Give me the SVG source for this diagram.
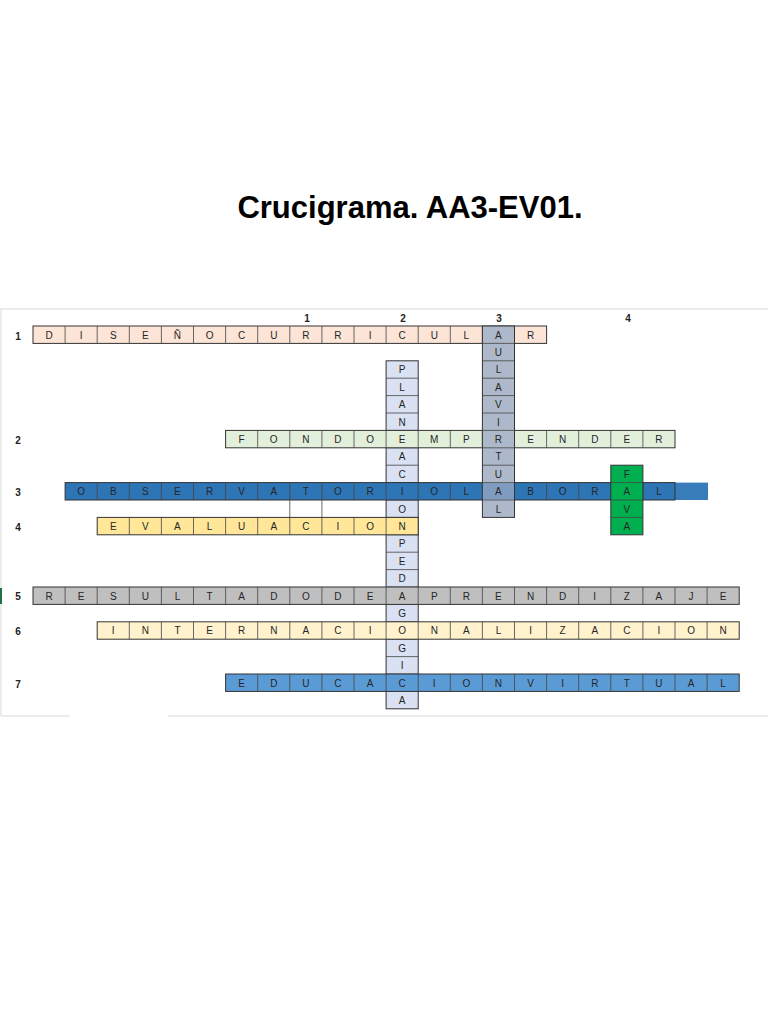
<svg xmlns="http://www.w3.org/2000/svg" width="768" height="1024" viewBox="0 0 768 1024">
<style>
.t{font-family:"Liberation Sans",Arial,sans-serif;font-size:10px;fill:#262626;text-anchor:middle}
.lb{font-family:"Liberation Sans",Arial,sans-serif;font-size:10px;font-weight:bold;fill:#222;text-anchor:middle}
.b{stroke:#333;stroke-width:1}
.d{stroke:#444;stroke-width:0.8;fill:none}
</style>
<rect width="768" height="1024" fill="#fff"/>
<text x="410" y="218" font-family="Liberation Sans,Arial,sans-serif" font-size="31" font-weight="bold" text-anchor="middle" fill="#000">Crucigrama. AA3-EV01.</text>
<g id="frame" stroke="#d9d9d9" fill="none"><path d="M0 309H768M1 309V716M1 716H70M168 716H768"/></g>
<g id="labels">
<text class="lb" x="18" y="340">1</text><text class="lb" x="18" y="444">2</text><text class="lb" x="18" y="496">3</text><text class="lb" x="18" y="531">4</text><text class="lb" x="18" y="600">5</text><text class="lb" x="18" y="635">6</text><text class="lb" x="18" y="688">7</text>
<text class="lb" x="307" y="322">1</text><text class="lb" x="403" y="322">2</text><text class="lb" x="499" y="322">3</text><text class="lb" x="628" y="322">4</text>
</g>
<rect x="0" y="588" width="2" height="16" fill="#217346"/>
<g id="connectors"><path class="d" d="M289.8 500V517.4M321.9 500V517.4"/></g>
<g id="v2">
<rect class="b" x="386.1" y="360.8" width="32.1" height="348" fill="#D9E1F2"/>
<path class="d" d="M386.1 378.2h32.1M386.1 395.6h32.1M386.1 413h32.1M386.1 430.4h32.1M386.1 447.8h32.1M386.1 465.2h32.1M386.1 482.6h32.1M386.1 500h32.1M386.1 517.4h32.1M386.1 534.8h32.1M386.1 552.2h32.1M386.1 569.6h32.1M386.1 587h32.1M386.1 604.4h32.1M386.1 621.8h32.1M386.1 639.2h32.1M386.1 656.6h32.1M386.1 674h32.1M386.1 691.4h32.1"/>
<text class="t" x="402.15" y="373.3">P</text><text class="t" x="402.15" y="390.7">L</text><text class="t" x="402.15" y="408.1">A</text><text class="t" x="402.15" y="425.5">N</text><text class="t" x="402.15" y="460.3">A</text><text class="t" x="402.15" y="477.7">C</text><text class="t" x="402.15" y="512.5">O</text><text class="t" x="402.15" y="547.3">P</text><text class="t" x="402.15" y="564.7">E</text><text class="t" x="402.15" y="582.1">D</text><text class="t" x="402.15" y="616.9">G</text><text class="t" x="402.15" y="651.7">G</text><text class="t" x="402.15" y="669.1">I</text><text class="t" x="402.15" y="703.9">A</text>
</g>
<g id="h1">
<rect class="b" x="33" y="326" width="513.6" height="17.4" fill="#FCE4D6"/>
<path class="d" d="M65.1 326v17.4M97.2 326v17.4M129.3 326v17.4M161.4 326v17.4M193.5 326v17.4M225.6 326v17.4M257.7 326v17.4M289.8 326v17.4M321.9 326v17.4M354 326v17.4M386.1 326v17.4M418.2 326v17.4M450.3 326v17.4M482.4 326v17.4M514.5 326v17.4"/>
<text class="t" x="49.05" y="338.5">D</text><text class="t" x="81.15" y="338.5">I</text><text class="t" x="113.25" y="338.5">S</text><text class="t" x="145.35" y="338.5">E</text><text class="t" x="177.45" y="338.5">Ñ</text><text class="t" x="209.55" y="338.5">O</text><text class="t" x="241.65" y="338.5">C</text><text class="t" x="273.75" y="338.5">U</text><text class="t" x="305.85" y="338.5">R</text><text class="t" x="337.95" y="338.5">R</text><text class="t" x="370.05" y="338.5">I</text><text class="t" x="402.15" y="338.5">C</text><text class="t" x="434.25" y="338.5">U</text><text class="t" x="466.35" y="338.5">L</text><text class="t" x="530.55" y="338.5">R</text>
</g>
<g id="h2">
<rect class="b" x="225.6" y="430.4" width="449.4" height="17.4" fill="#E2EFDA"/>
<path class="d" d="M257.7 430.4v17.4M289.8 430.4v17.4M321.9 430.4v17.4M354 430.4v17.4M386.1 430.4v17.4M418.2 430.4v17.4M450.3 430.4v17.4M482.4 430.4v17.4M514.5 430.4v17.4M546.6 430.4v17.4M578.7 430.4v17.4M610.8 430.4v17.4M642.9 430.4v17.4"/>
<text class="t" x="241.65" y="442.9">F</text><text class="t" x="273.75" y="442.9">O</text><text class="t" x="305.85" y="442.9">N</text><text class="t" x="337.95" y="442.9">D</text><text class="t" x="370.05" y="442.9">O</text><text class="t" x="402.15" y="442.9">E</text><text class="t" x="434.25" y="442.9">M</text><text class="t" x="466.35" y="442.9">P</text><text class="t" x="530.55" y="442.9">E</text><text class="t" x="562.65" y="442.9">N</text><text class="t" x="594.75" y="442.9">D</text><text class="t" x="626.85" y="442.9">E</text><text class="t" x="658.95" y="442.9">R</text>
</g>
<g id="h3">
<rect x="675" y="482.6" width="33" height="17.4" fill="#2E75B6" opacity="0.95"/>
<rect class="b" x="65.1" y="482.6" width="609.9" height="17.4" fill="#2E75B6"/>
<path class="d" d="M97.2 482.6v17.4M129.3 482.6v17.4M161.4 482.6v17.4M193.5 482.6v17.4M225.6 482.6v17.4M257.7 482.6v17.4M289.8 482.6v17.4M321.9 482.6v17.4M354 482.6v17.4M386.1 482.6v17.4M418.2 482.6v17.4M450.3 482.6v17.4M482.4 482.6v17.4M514.5 482.6v17.4M546.6 482.6v17.4M578.7 482.6v17.4M610.8 482.6v17.4M642.9 482.6v17.4"/>
<text class="t" x="81.15" y="495.1">O</text><text class="t" x="113.25" y="495.1">B</text><text class="t" x="145.35" y="495.1">S</text><text class="t" x="177.45" y="495.1">E</text><text class="t" x="209.55" y="495.1">R</text><text class="t" x="241.65" y="495.1">V</text><text class="t" x="273.75" y="495.1">A</text><text class="t" x="305.85" y="495.1">T</text><text class="t" x="337.95" y="495.1">O</text><text class="t" x="370.05" y="495.1">R</text><text class="t" x="402.15" y="495.1">I</text><text class="t" x="434.25" y="495.1">O</text><text class="t" x="466.35" y="495.1">L</text><text class="t" x="530.55" y="495.1">B</text><text class="t" x="562.65" y="495.1">O</text><text class="t" x="594.75" y="495.1">R</text><text class="t" x="658.95" y="495.1">L</text>
</g>
<g id="h4">
<rect class="b" x="97.2" y="517.4" width="321" height="17.4" fill="#FFE699"/>
<path class="d" d="M129.3 517.4v17.4M161.4 517.4v17.4M193.5 517.4v17.4M225.6 517.4v17.4M257.7 517.4v17.4M289.8 517.4v17.4M321.9 517.4v17.4M354 517.4v17.4M386.1 517.4v17.4"/>
<text class="t" x="113.25" y="529.9">E</text><text class="t" x="145.35" y="529.9">V</text><text class="t" x="177.45" y="529.9">A</text><text class="t" x="209.55" y="529.9">L</text><text class="t" x="241.65" y="529.9">U</text><text class="t" x="273.75" y="529.9">A</text><text class="t" x="305.85" y="529.9">C</text><text class="t" x="337.95" y="529.9">I</text><text class="t" x="370.05" y="529.9">O</text><text class="t" x="402.15" y="529.9">N</text>
</g>
<g id="h5">
<rect class="b" x="33" y="587" width="706.2" height="17.4" fill="#BFBFBF"/>
<path class="d" d="M65.1 587v17.4M97.2 587v17.4M129.3 587v17.4M161.4 587v17.4M193.5 587v17.4M225.6 587v17.4M257.7 587v17.4M289.8 587v17.4M321.9 587v17.4M354 587v17.4M386.1 587v17.4M418.2 587v17.4M450.3 587v17.4M482.4 587v17.4M514.5 587v17.4M546.6 587v17.4M578.7 587v17.4M610.8 587v17.4M642.9 587v17.4M675 587v17.4M707.1 587v17.4"/>
<text class="t" x="49.05" y="599.5">R</text><text class="t" x="81.15" y="599.5">E</text><text class="t" x="113.25" y="599.5">S</text><text class="t" x="145.35" y="599.5">U</text><text class="t" x="177.45" y="599.5">L</text><text class="t" x="209.55" y="599.5">T</text><text class="t" x="241.65" y="599.5">A</text><text class="t" x="273.75" y="599.5">D</text><text class="t" x="305.85" y="599.5">O</text><text class="t" x="337.95" y="599.5">D</text><text class="t" x="370.05" y="599.5">E</text><text class="t" x="402.15" y="599.5">A</text><text class="t" x="434.25" y="599.5">P</text><text class="t" x="466.35" y="599.5">R</text><text class="t" x="498.45" y="599.5">E</text><text class="t" x="530.55" y="599.5">N</text><text class="t" x="562.65" y="599.5">D</text><text class="t" x="594.75" y="599.5">I</text><text class="t" x="626.85" y="599.5">Z</text><text class="t" x="658.95" y="599.5">A</text><text class="t" x="691.05" y="599.5">J</text><text class="t" x="723.15" y="599.5">E</text>
</g>
<g id="h6">
<rect class="b" x="97.2" y="621.8" width="642" height="17.4" fill="#FFF2CC"/>
<path class="d" d="M129.3 621.8v17.4M161.4 621.8v17.4M193.5 621.8v17.4M225.6 621.8v17.4M257.7 621.8v17.4M289.8 621.8v17.4M321.9 621.8v17.4M354 621.8v17.4M386.1 621.8v17.4M418.2 621.8v17.4M450.3 621.8v17.4M482.4 621.8v17.4M514.5 621.8v17.4M546.6 621.8v17.4M578.7 621.8v17.4M610.8 621.8v17.4M642.9 621.8v17.4M675 621.8v17.4M707.1 621.8v17.4"/>
<text class="t" x="113.25" y="634.3">I</text><text class="t" x="145.35" y="634.3">N</text><text class="t" x="177.45" y="634.3">T</text><text class="t" x="209.55" y="634.3">E</text><text class="t" x="241.65" y="634.3">R</text><text class="t" x="273.75" y="634.3">N</text><text class="t" x="305.85" y="634.3">A</text><text class="t" x="337.95" y="634.3">C</text><text class="t" x="370.05" y="634.3">I</text><text class="t" x="402.15" y="634.3">O</text><text class="t" x="434.25" y="634.3">N</text><text class="t" x="466.35" y="634.3">A</text><text class="t" x="498.45" y="634.3">L</text><text class="t" x="530.55" y="634.3">I</text><text class="t" x="562.65" y="634.3">Z</text><text class="t" x="594.75" y="634.3">A</text><text class="t" x="626.85" y="634.3">C</text><text class="t" x="658.95" y="634.3">I</text><text class="t" x="691.05" y="634.3">O</text><text class="t" x="723.15" y="634.3">N</text>
</g>
<g id="h7">
<rect class="b" x="225.6" y="674" width="513.6" height="17.4" fill="#5B9BD5"/>
<path class="d" d="M257.7 674v17.4M289.8 674v17.4M321.9 674v17.4M354 674v17.4M386.1 674v17.4M418.2 674v17.4M450.3 674v17.4M482.4 674v17.4M514.5 674v17.4M546.6 674v17.4M578.7 674v17.4M610.8 674v17.4M642.9 674v17.4M675 674v17.4M707.1 674v17.4"/>
<text class="t" x="241.65" y="686.5">E</text><text class="t" x="273.75" y="686.5">D</text><text class="t" x="305.85" y="686.5">U</text><text class="t" x="337.95" y="686.5">C</text><text class="t" x="370.05" y="686.5">A</text><text class="t" x="402.15" y="686.5">C</text><text class="t" x="434.25" y="686.5">I</text><text class="t" x="466.35" y="686.5">O</text><text class="t" x="498.45" y="686.5">N</text><text class="t" x="530.55" y="686.5">V</text><text class="t" x="562.65" y="686.5">I</text><text class="t" x="594.75" y="686.5">R</text><text class="t" x="626.85" y="686.5">T</text><text class="t" x="658.95" y="686.5">U</text><text class="t" x="691.05" y="686.5">A</text><text class="t" x="723.15" y="686.5">L</text>
</g>
<g id="v3">
<rect class="b" x="482.4" y="326" width="32.1" height="191.4" fill="#ADB9CA"/>
<rect x="482.9" y="483.1" width="31.1" height="16.4" fill="#7F9CC0"/>
<path class="d" d="M482.4 343.4h32.1M482.4 360.8h32.1M482.4 378.2h32.1M482.4 395.6h32.1M482.4 413h32.1M482.4 430.4h32.1M482.4 447.8h32.1M482.4 465.2h32.1M482.4 482.6h32.1M482.4 500h32.1"/>
<text class="t" x="498.45" y="338.5">A</text><text class="t" x="498.45" y="355.9">U</text><text class="t" x="498.45" y="373.3">L</text><text class="t" x="498.45" y="390.7">A</text><text class="t" x="498.45" y="408.1">V</text><text class="t" x="498.45" y="425.5">I</text><text class="t" x="498.45" y="442.9">R</text><text class="t" x="498.45" y="460.3">T</text><text class="t" x="498.45" y="477.7">U</text><text class="t" x="498.45" y="495.1">A</text><text class="t" x="498.45" y="512.5">L</text>
</g>
<g id="v4">
<rect class="b" x="610.8" y="465.2" width="32.1" height="69.6" fill="#00B050"/>
<path class="d" d="M610.8 482.6h32.1M610.8 500h32.1M610.8 517.4h32.1"/>
<text class="t" x="626.85" y="477.7">F</text><text class="t" x="626.85" y="495.1">A</text><text class="t" x="626.85" y="512.5">V</text><text class="t" x="626.85" y="529.9">A</text>
</g>
</svg>
